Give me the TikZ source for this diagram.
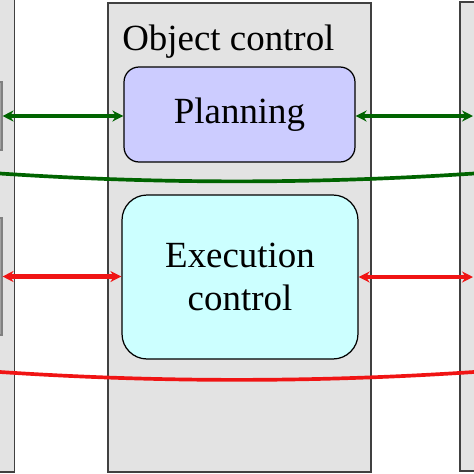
\documentclass[tikz,border=0pt]{standalone}
\usepackage{fontspec}
\setmainfont{Liberation Serif}
\usetikzlibrary{arrows.meta}
\definecolor{panelgray}{RGB}{227,227,227}
\definecolor{innergray}{RGB}{160,160,160}
\definecolor{planblue}{RGB}{204,204,255}
\definecolor{execcyan}{RGB}{204,255,255}
\definecolor{linkgreen}{RGB}{0,100,0}
\definecolor{linkred}{RGB}{240,20,20}
\begin{document}
\begin{tikzpicture}[
    x=0.02cm, y=-0.02cm,
    panel/.style={draw=black!75, line width=0.9pt, fill=panelgray, inner sep=0pt},
    inner box/.style={draw=black!50, line width=0.6pt, fill=innergray, inner sep=0pt},
    task box/.style={draw=black, line width=0.7pt, inner sep=0pt, align=center,
        font=\fontsize{21}{24}\selectfont},
    link/.style={line width=2.4pt, {Stealth[length=0.22cm, width=0.22cm]}-{Stealth[length=0.22cm, width=0.22cm]}},
    bus/.style={line width=2.1pt}
    ]
    \useasboundingbox (0,0) rectangle (474,474);
    % panels
    \node (leftpanel) [panel, minimum width=0.89cm, minimum height=9.64cm] at (-7.75,231) {};
    \node (rightpanel) [panel, minimum width=0.8cm, minimum height=9.38cm] at (480,236.5) {};
    \node (objctl) [panel, minimum width=5.26cm, minimum height=9.38cm] at (239.5,237.5) {};
    \node (lbox1) [inner box, minimum width=0.44cm, minimum height=1.36cm] at (-9,116) {};
    \node (lbox2) [inner box, minimum width=0.44cm, minimum height=2.34cm] at (-9,276.5) {};
    \node (title) [anchor=base west, inner sep=0pt, font=\fontsize{21}{24}\selectfont]
        at (122,50) {Object control};

    % boxes
    \node (plan) [task box, fill=planblue, rounded corners=0.3cm,
        minimum width=4.62cm, minimum height=1.9cm] at (239.5,114.5) {Planning};
    \node (exec) [task box, fill=execcyan, rounded corners=0.5cm,
        minimum width=4.72cm, minimum height=3.28cm] at (240,277) {Execution\\control};

    % free ends at the right
    \coordinate (rA) at (473,116);
    \coordinate (rB) at (473,277);
    \coordinate (gA) at (0,173.5);
    \coordinate (gB) at (474,173.5);
    \coordinate (rdA) at (0,372);
    \coordinate (rdB) at (474,372);

    % arrows
    \draw[link, linkgreen] (lbox1.east) -- (lbox1.east -| plan.west);
    \draw[link, linkgreen] (rA -| plan.east) -- (rA);
    \draw[link, linkred] (lbox2.east) -- (lbox2.east -| exec.west);
    \draw[link, linkred] (rB -| exec.east) -- (rB);

    % buses
    \draw[bus, linkgreen] (gA) .. controls (158,184) and (316,184) .. (gB);
    \draw[bus, linkred] (rdA) .. controls (158,382.5) and (316,382.5) .. (rdB);
\end{tikzpicture}
\end{document}
